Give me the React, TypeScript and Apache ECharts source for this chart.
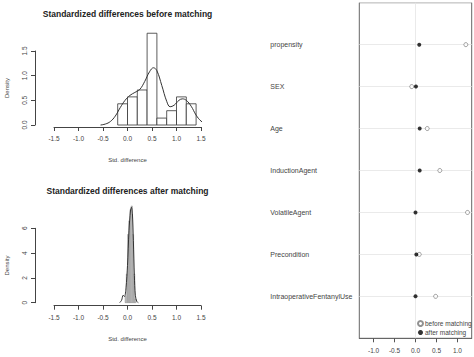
import React, { useEffect, useRef } from "react";
import * as echarts from "echarts";

// ---- Data ----
const beforeBinEdges = [-0.2, 0.0, 0.2, 0.4, 0.6, 0.8, 1.0, 1.2, 1.4];
const beforeHistDensity = [0.43, 0.57, 0.71, 1.86, 0.14, 0.29, 0.57, 0.43];
const beforeKdeX = [-0.55, -0.45, -0.35, -0.25, -0.15, -0.05, 0.05, 0.15, 0.25, 0.35, 0.45, 0.53, 0.6, 0.7, 0.8, 0.87, 0.95, 1.05, 1.12, 1.2, 1.3, 1.4, 1.5, 1.6, 1.66];
const beforeKdeY = [0, 0.02, 0.07, 0.18, 0.35, 0.5, 0.6, 0.66, 0.72, 0.88, 1.08, 1.16, 1.1, 0.8, 0.48, 0.37, 0.4, 0.5, 0.53, 0.5, 0.38, 0.2, 0.08, 0.02, 0];

const afterBinEdges = [-0.05, -0.025, 0.0, 0.025, 0.05, 0.075, 0.1, 0.125, 0.15, 0.175];
const afterHistDensity = [0.5, 2.3, 5.5, 6.6, 7.5, 7.8, 5.5, 2.3, 0.3];
const afterKdeX = [-0.16, -0.12, -0.09, -0.06, -0.03, 0.0, 0.03, 0.06, 0.08, 0.1, 0.12, 0.14, 0.16, 0.19, 0.22];
const afterKdeY = [0, 0.2, 0.6, 0.5, 1.2, 3.0, 5.8, 7.4, 7.7, 7.2, 5.0, 2.2, 0.6, 0.1, 0];

const dotXTicks = [-1.0, -0.5, 0.0, 0.5, 1.0];

const covariates = ["propensity", "SEX", "Age", "InductionAgent", "VolatileAgent", "Precondition", "IntraoperativeFentanylUse"];
const beforeMatching = [1.2, -0.09, 0.28, 0.58, 1.24, 0.09, 0.48];
const afterMatching = [0.09, 0.01, 0.1, 0.1, 0.0, 0.02, 0.0];

const titles = ["Standardized differences before matching", "Standardized differences after matching"];

const FONT = "Liberation Sans, Arial, sans-serif";
const AXIS = "#444";

function histData(edges: number[], dens: number[]) {
  return dens.map((d, i) => [edges[i], edges[i + 1], d]);
}

function histSeries(idx: number, data: number[][], fill: string, stroke: string, lw: number) {
  return {
    type: "custom",
    xAxisIndex: idx,
    yAxisIndex: idx,
    clip: false,
    encode: { x: [0, 1], y: 2 },
    data,
    renderItem: (params: any, api: any) => {
      const p0 = api.coord([api.value(0), 0]);
      const p1 = api.coord([api.value(1), api.value(2)]);
      return {
        type: "rect",
        shape: { x: p0[0], y: p1[1], width: p1[0] - p0[0], height: p0[1] - p1[1] },
        style: { fill, stroke, lineWidth: lw },
      };
    },
  };
}

function histX(idx: number, offset: number) {
  return {
    gridIndex: idx,
    type: "value",
    min: -1.5,
    max: 1.5,
    interval: 0.5,
    offset,
    name: "Std. difference",
    nameLocation: "middle",
    nameGap: 30,
    nameTextStyle: { fontFamily: FONT, fontSize: 6, color: "#444" },
    axisLine: { show: true, onZero: false, lineStyle: { color: AXIS, width: 1 } },
    axisTick: { show: true, length: 4, lineStyle: { color: AXIS } },
    axisLabel: { fontFamily: FONT, fontSize: 6.5, color: "#444", margin: 8, formatter: (v: number) => v.toFixed(1) },
    splitLine: { show: false },
  };
}

function histY(idx: number, max: number, interval: number, digits: number) {
  return {
    gridIndex: idx,
    type: "value",
    min: 0,
    max,
    interval,
    offset: 19,
    name: "Density",
    nameLocation: "middle",
    nameRotate: 90,
    nameGap: 25,
    nameTextStyle: { fontFamily: FONT, fontSize: 6, color: "#444" },
    axisLine: { show: true, onZero: false, lineStyle: { color: AXIS, width: 1 } },
    axisTick: { show: true, length: 4, lineStyle: { color: AXIS } },
    axisLabel: { rotate: 90, fontFamily: FONT, fontSize: 6.5, color: "#444", margin: 7, formatter: (v: number) => v.toFixed(digits) },
    splitLine: { show: false },
  };
}

export default function App() {
  const ref = useRef<HTMLDivElement>(null);
  useEffect(() => {
    document.body.style.margin = "0";
    const chart = echarts.init(ref.current!, undefined, { renderer: "svg" });
    const option: any = {
      animation: false,
      backgroundColor: "#fff",
      textStyle: { fontFamily: FONT },
      grid: [
        { left: 54, top: 51, width: 147, height: 74 },
        { left: 54, top: 228.3, width: 147, height: 74.4 },
        { left: 359.3, top: 2.7, width: 112.4, height: 335.6, show: true, borderColor: "#666", borderWidth: 1, backgroundColor: "#fff" },
      ],
      xAxis: [
        histX(0, 2),
        histX(1, 3),
        {
          gridIndex: 2,
          type: "value",
          min: -1.34,
          max: 1.34,
          axisLine: { show: true, onZero: false, lineStyle: { color: "#666", width: 1 } },
          axisTick: { show: true, length: 4, customValues: dotXTicks, lineStyle: { color: "#555" } },
          axisLabel: { customValues: dotXTicks, fontFamily: FONT, fontSize: 6.5, color: "#444", margin: 9, formatter: (v: number) => v.toFixed(1) },
          splitLine: { show: false },
        },
      ],
      yAxis: [
        histY(0, 1.5, 0.5, 1),
        histY(1, 6, 2, 0),
        {
          gridIndex: 2,
          type: "value",
          min: 0,
          max: covariates.length + 1,
          interval: 1,
          inverse: true,
          axisLine: { show: false, onZero: false },
          axisTick: { show: false },
          axisLabel: {
            align: "left",
            margin: 89,
            fontFamily: FONT,
            fontSize: 7,
            color: "#444",
            formatter: (v: number) => covariates[v - 1] ?? "",
          },
          splitLine: { show: true, lineStyle: { color: "#e4e4e4", width: 0.8 } },
        },
      ],
      legend: {
        orient: "vertical",
        left: 417,
        top: 320,
        itemWidth: 5,
        itemHeight: 5,
        itemGap: 2,
        padding: 0,
        textStyle: { fontFamily: FONT, fontSize: 6.5, color: "#444", padding: [0, 0, 0, -3] },
        data: ["before matching", "after matching"],
      },
      series: [
        histSeries(0, histData(beforeBinEdges, beforeHistDensity), "#fff", "#333", 0.8),
        {
          type: "line",
          xAxisIndex: 0,
          yAxisIndex: 0,
          clip: false,
          smooth: 0.4,
          symbol: "none",
          lineStyle: { color: "#333", width: 1 },
          data: beforeKdeX.map((x, i) => [x, beforeKdeY[i]]),
        },
        histSeries(1, histData(afterBinEdges, afterHistDensity), "#d0d0d0", "#777", 0.4),
        {
          type: "line",
          xAxisIndex: 1,
          yAxisIndex: 1,
          clip: false,
          smooth: 0.3,
          symbol: "none",
          lineStyle: { color: "#222", width: 0.9 },
          data: afterKdeX.map((x, i) => [x, afterKdeY[i]]),
        },
        {
          name: "before matching",
          type: "scatter",
          xAxisIndex: 2,
          yAxisIndex: 2,
          symbol: "circle",
          symbolSize: 4,
          itemStyle: { color: "#fff", borderColor: "#777", borderWidth: 0.9 },
          data: beforeMatching.map((v, i) => [v, i + 1]),
          markLine: {
            silent: true,
            symbol: "none",
            label: { show: false },
            lineStyle: { color: "#e4e4e4", type: "solid", width: 0.8 },
            data: [{ xAxis: 0 }],
            z: 1,
          },
          z: 3,
        },
        {
          name: "after matching",
          type: "scatter",
          xAxisIndex: 2,
          yAxisIndex: 2,
          symbol: "circle",
          symbolSize: 4,
          itemStyle: { color: "#000" },
          data: afterMatching.map((v, i) => [v, i + 1]),
          z: 4,
        },
      ],
      graphic: titles.map((t, i) => ({
        type: "text",
        x: 127.5,
        y: i === 0 ? 13.5 : 190.5,
        style: { text: t, font: `bold 8.5px ${FONT}`, fill: "#222", textAlign: "center", textVerticalAlign: "middle" },
      })),
    };
    chart.setOption(option);
    return () => chart.dispose();
  }, []);
  return <div ref={ref} style={{ width: 474, height: 357 }} />;
}
